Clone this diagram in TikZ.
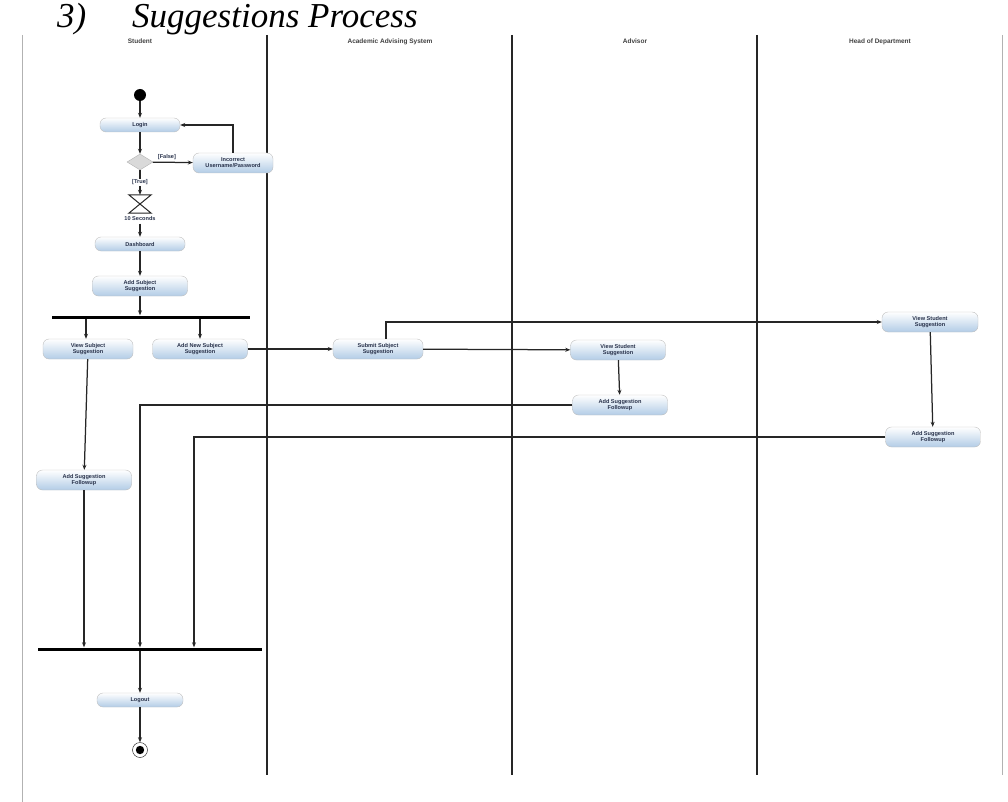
\documentclass[tikz,border=0pt]{standalone}
\usepackage{fontspec}
\setmainfont{Liberation Serif}
\newfontfamily\labfont{Liberation Sans}
\usetikzlibrary{arrows.meta,shapes.geometric}
\definecolor{txt}{RGB}{40,50,75}
\definecolor{nodeb}{RGB}{178,204,230}
\begin{document}
\begin{tikzpicture}[x=1pt,y=-1pt,
  act/.style={rectangle,rounded corners=6pt,draw=gray!50,top color=white,bottom color=nodeb,
    font=\labfont\bfseries\fontsize{5.6}{6.2}\selectfont,text=txt,align=center,
    minimum height=14pt,inner sep=1.5pt},
  lane/.style={line width=1.1pt,black!85},
  hdr/.style={font=\labfont\bfseries\fontsize{6.5}{7.5}\selectfont,text=black!75,anchor=base},
  conn/.style={line width=1.25pt,black!85},
  arr/.style={conn,-{Stealth[length=5pt,width=4pt]}},
  bar/.style={rectangle,fill=black,inner sep=0pt,minimum height=3pt},
  small/.style={font=\labfont\bfseries\fontsize{5.6}{6.2}\selectfont,text=txt}]
\useasboundingbox (0,0) rectangle (1008,802);
% title
\node[anchor=base west,font=\itshape\fontsize{35}{37}\selectfont,inner sep=0pt] (tnum) at (57,28) {3)};
\node[anchor=base west,font=\itshape\fontsize{35}{37}\selectfont,inner sep=0pt] (ttl) at (132,28) {Suggestions Process};
% lanes
\draw[line width=0.7pt,gray!60] (22,35) -- (22,802);
\draw[lane] (267,35) -- (267,775);
\draw[lane] (512,35) -- (512,775);
\draw[lane] (757,35) -- (757,775);
\draw[line width=0.7pt,gray!60] (1002,35) -- (1002,775);
\node[hdr] (h1) at (140,44) {Student};
\node[hdr] (h2) at (390,44) {Academic Advising System};
\node[hdr] (h3) at (635,44) {Advisor};
\node[hdr] (h4) at (880,44) {Head of Department};
% student lane
\node[circle,fill=black,minimum size=12pt,inner sep=0pt] (start) at (140,95) {};
\node[act,minimum width=80pt] (login) at (140,125) {Login};
\node[diamond,draw=gray!60,fill=gray!30,minimum width=26pt,minimum height=16pt,inner sep=0pt] (dec) at (140,162) {};
\node[act,minimum width=80pt,minimum height=20pt] (incorr) at (233,163) {Incorrect\\Username/Password};
\node[rectangle,minimum width=22pt,minimum height=18pt,inner sep=0pt] (wait) at (140,204) {};
\draw[conn,line width=1pt,fill=white] (wait.north west) -- (wait.north east) -- (wait.south west) -- (wait.south east) -- cycle;
\node[small] (secs) at (140,218) {10 Seconds};
\node[act,minimum width=90pt] (dash) at (140,244) {Dashboard};
\node[act,minimum width=95pt,minimum height=20pt] (addsub) at (140,286) {Add Subject\\Suggestion};
\node[bar,minimum width=198pt] (fork) at (151,317) {};
\node[act,minimum width=90pt,minimum height=20pt] (viewsub) at (88,349) {View Subject\\Suggestion};
\node[act,minimum width=95pt,minimum height=20pt] (addnew) at (200,349) {Add New Subject\\Suggestion};
\node[act,minimum width=95pt,minimum height=20pt] (stufollow) at (84,480) {Add Suggestion\\Followup};
\node[bar,minimum width=224pt] (join) at (150,649) {};
\node[act,minimum width=86pt] (logout) at (140,700) {Logout};
\node[circle,draw=black!80,line width=0.5pt,minimum size=15pt,inner sep=0pt] (end) at (140,750) {};
\fill[black] (end.center) circle (4.2pt);
% system lane
\node[act,minimum width=90pt,minimum height=20pt] (submit) at (378,349) {Submit Subject\\Suggestion};
% advisor lane
\node[act,minimum width=95pt,minimum height=20pt] (advview) at (618,350) {View Student\\Suggestion};
\node[act,minimum width=95pt,minimum height=20pt] (advfollow) at (620,405) {Add Suggestion\\Followup};
% head lane
\node[act,minimum width=96pt,minimum height=20pt] (headview) at (930,322) {View Student\\Suggestion};
\node[act,minimum width=95pt,minimum height=20pt] (headfollow) at (933,437) {Add Suggestion\\Followup};
\coordinate (hj) at (194,0);
\coordinate (vj) at (86,0);
\coordinate (sj) at (386,0);
% connectors
\draw[arr] (start) -- (login);
\draw[arr] (login) -- (dec);
\draw[arr] (dec) -- node[small,above,pos=0.35,yshift=-1pt] {[False]} (incorr);
\draw[arr] (incorr.north) |- (login.east);
\draw[arr] (dec) -- node[small,pos=0.5,fill=white,inner sep=1pt] {[True]} (wait.north);
\draw[arr] (secs) -- (dash);
\draw[arr] (dash) -- (addsub);
\draw[arr] (addsub) -- (addsub |- fork.north);
\draw[arr] (fork.south -| vj) -- (viewsub.north -| vj);
\draw[arr] (addnew.north |- fork.south) -- (addnew.north);
\draw[arr] (addnew) -- (submit);
\draw[arr] (submit) -- (advview);
\draw[arr] (submit.north -| sj) |- (headview.west);
\draw[arr] (advview) -- (advfollow);
\draw[arr] (headview) -- (headfollow);
\draw[arr] (viewsub) -- (stufollow);
\draw[arr] (stufollow) -- (stufollow |- join.north);
\draw[arr] (advfollow.west) -| (join.north -| logout.north);
\draw[arr] (headfollow.west) -| (join.north -| hj);
\draw[arr] (join.south -| logout.north) -- (logout);
\draw[arr] (logout) -- (end);
\end{tikzpicture}
\end{document}
